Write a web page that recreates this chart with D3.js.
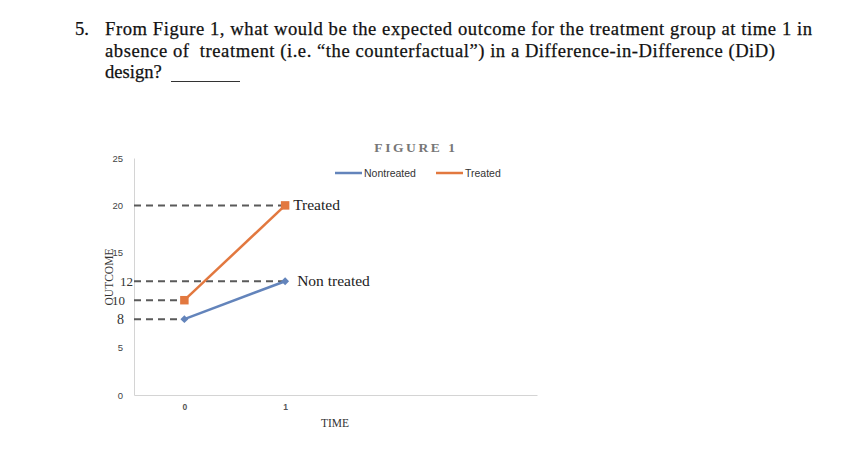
<!DOCTYPE html>
<html>
<head>
<meta charset="utf-8">
<script src="https://cdn.jsdelivr.net/npm/d3@7"></script>
<style>
  body { margin: 0; background: #fff; }
  svg { display: block; }
</style>
</head>
<body>
<svg id="chart" width="853" height="462"></svg>
<script>
// question text
const questionLines = [
  "From Figure 1, what would be the expected outcome for the treatment group at time 1 in",
  "absence of  treatment (i.e. \u201cthe counterfactual\u201d) in a Difference-in-Difference (DiD)",
  "design?"
];

// chart data
const times = [0, 1];
const nontreated = [8, 12];
const treated = [10, 20];
const yTicks = [0, 5, 15, 20, 25];
const xTicks = [0, 1];
const markedValues = [12, 10, 8];   // hand-written labels beside the axis
const seriesNames = ["Nontreated", "Treated"];

const svg = d3.select("#chart");

// --- question ---
svg.append("text")
  .attr("x", 75).attr("y", 35)
  .style("font-family", "'Liberation Serif', 'Times New Roman', serif")
  .style("font-size", "18.6px")
  .attr("fill", "#111").attr("stroke", "#111").attr("stroke-width", 0.25)
  .text("5.");

const lineWidths = [707, 670, null];
questionLines.forEach((t, i) => {
  const txt = svg.append("text")
    .attr("x", 105).attr("y", 35 + i * 21.7)
    .style("font-family", "'Liberation Serif', 'Times New Roman', serif")
    .style("font-size", "18.6px")
    .style("white-space", "pre")
    .attr("fill", "#111").attr("stroke", "#111").attr("stroke-width", 0.25)
    .text(t);
  if (lineWidths[i]) txt.attr("textLength", lineWidths[i]).attr("lengthAdjust", "spacing");
});
svg.append("line")
  .attr("x1", 171).attr("x2", 240).attr("y1", 81.5).attr("y2", 81.5)
  .attr("stroke", "#333").attr("stroke-width", 1);

// --- chart ---
const x = d3.scaleLinear().domain([-0.5, 3.5]).range([134, 537]);
const y = d3.scaleLinear().domain([0, 25]).range([395, 158]);

const blue = "#6384bb";
const orange = "#e2783f";

// axes
const yAxis = svg.append("g")
  .attr("transform", `translate(${x(-0.5)},0)`)
  .call(d3.axisLeft(y).tickValues(yTicks).tickSize(0).tickPadding(11).tickFormat(d3.format("d")));
yAxis.select(".domain").attr("stroke", "#d4d4d4");
yAxis.selectAll("text")
  .style("font-family", "'Liberation Sans', Arial, sans-serif")
  .style("font-size", "9.5px")
  .attr("fill", "#444");

const xAxis = svg.append("g")
  .attr("transform", `translate(0,${y(0)})`)
  .call(d3.axisBottom(x).tickValues(xTicks).tickSize(0).tickPadding(9).tickFormat(d3.format("d")));
xAxis.select(".domain").attr("stroke", "#d4d4d4");
xAxis.selectAll("text")
  .style("font-family", "'Liberation Sans', Arial, sans-serif")
  .style("font-size", "8.5px")
  .style("font-weight", "bold")
  .attr("fill", "#555");

// dashed guide lines from the y axis to each point
const guides = [
  {v: treated[1], t: times[1]},
  {v: nontreated[1], t: times[1]},
  {v: treated[0], t: times[0]},
  {v: nontreated[0], t: times[0]}
];
svg.append("g").selectAll("line")
  .data(guides)
  .join("line")
  .attr("x1", x(-0.5)).attr("x2", d => x(d.t))
  .attr("y1", d => y(d.v)).attr("y2", d => y(d.v))
  .attr("stroke", "#5a5a5a")
  .attr("stroke-width", 2)
  .attr("stroke-dasharray", "7,5");

// hand-written value labels
svg.append("g").selectAll("text")
  .data(markedValues)
  .join("text")
  .attr("x", d => d === 12 ? 133 : d === 10 ? 125 : 124)
  .attr("y", d => y(d) + 4.5)
  .attr("text-anchor", "end")
  .style("font-family", "'Liberation Serif', 'Times New Roman', serif")
  .style("font-size", d => d === 8 ? "14px" : "13px")
  .attr("fill", "#333")
  .text(d => d);

// OUTCOME label
svg.append("text")
  .attr("transform", `translate(113,277) rotate(-90)`)
  .attr("text-anchor", "middle")
  .style("font-family", "'Liberation Serif', 'Times New Roman', serif")
  .style("font-size", "11.5px")
  .attr("fill", "#333")
  .text("OUTCOME");

// TIME label
svg.append("text")
  .attr("x", 335).attr("y", 427)
  .attr("text-anchor", "middle")
  .style("font-family", "'Liberation Serif', 'Times New Roman', serif")
  .style("font-size", "11.5px")
  .attr("fill", "#333")
  .text("TIME");

// series lines
const line = d3.line().x((d, i) => x(times[i])).y(d => y(d));
svg.append("path").datum(treated)
  .attr("d", line).attr("fill", "none").attr("stroke", orange).attr("stroke-width", 2.5);
svg.append("path").datum(nontreated)
  .attr("d", line).attr("fill", "none").attr("stroke", blue).attr("stroke-width", 2.5);

const diamond = d3.symbol().type(d3.symbolDiamond2).size(40);
const square = d3.symbol().type(d3.symbolSquare).size(72);

svg.append("g").selectAll("path")
  .data(treated)
  .join("path")
  .attr("transform", (d, i) => `translate(${x(times[i])},${y(d)})`)
  .attr("d", square)
  .attr("fill", orange);
svg.append("g").selectAll("path")
  .data(nontreated)
  .join("path")
  .attr("transform", (d, i) => `translate(${x(times[i])},${y(d)})`)
  .attr("d", diamond)
  .attr("fill", blue);

// end labels
svg.append("text")
  .attr("x", x(times[1]) + 8).attr("y", y(treated[1]) + 4.5)
  .style("font-family", "'Liberation Serif', 'Times New Roman', serif")
  .style("font-size", "15.5px")
  .attr("fill", "#222")
  .text("Treated");
svg.append("text")
  .attr("x", x(times[1]) + 12).attr("y", y(nontreated[1]) + 5)
  .style("font-family", "'Liberation Serif', 'Times New Roman', serif")
  .style("font-size", "15.5px")
  .attr("fill", "#222")
  .text("Non treated");

// title
svg.append("text")
  .attr("x", 416).attr("y", 152)
  .attr("text-anchor", "middle")
  .style("font-family", "'Liberation Serif', 'Times New Roman', serif")
  .style("font-size", "13.5px")
  .style("font-weight", "bold")
  .style("letter-spacing", "2.6px")
  .attr("fill", "#777")
  .text("FIGURE 1");

// legend
const legend = svg.append("g").attr("transform", "translate(335,173)");
const legendItems = [
  {name: seriesNames[0], color: blue, sym: d3.symbol().type(d3.symbolDiamond2).size(55), x: 0},
  {name: seriesNames[1], color: orange, sym: d3.symbol().type(d3.symbolSquare).size(48), x: 101}
];
const li = legend.selectAll("g").data(legendItems).join("g")
  .attr("transform", d => `translate(${d.x},0)`);
li.append("line").attr("x1", 0).attr("x2", 27).attr("stroke", d => d.color).attr("stroke-width", 2.5);
li.append("path").attr("transform", "translate(13.5,0)").attr("d", d => d.sym).attr("fill", d => d.color);
li.append("text")
  .attr("x", 29).attr("y", 3.5)
  .style("font-family", "'Liberation Sans', Arial, sans-serif")
  .style("font-size", "10.5px")
  .attr("fill", "#333")
  .text(d => d.name);
</script>
</body>
</html>
